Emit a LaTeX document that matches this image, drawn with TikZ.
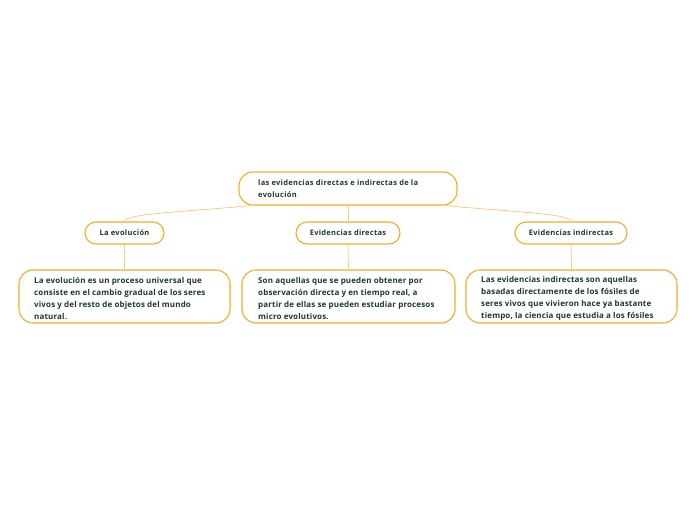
\documentclass[tikz,border=0pt]{standalone}
\usepackage{fontspec}
\setmainfont{Open Sans}
\newfontfamily\rootfont[LetterSpace=4]{Open Sans}
\newfontfamily\detfont[LetterSpace=1.8]{Open Sans}
\usetikzlibrary{calc}
\definecolor{boxline}{HTML}{F7A928}
\definecolor{connline}{HTML}{F9CB82}
\definecolor{txt}{HTML}{1D3A2C}
\tikzset{
  box/.style={draw=boxline, line width=1.1pt, rounded corners=11pt, fill=white,
    text=txt, font=\rootfont\fontsize{7.5pt}{12pt}\selectfont\bfseries, inner sep=0pt},
  rootbox/.style={box, minimum width=218pt, minimum height=33pt, rounded corners=14pt},
  midbox/.style={box, minimum height=22pt},
  detbox/.style={box, minimum height=53pt, rounded corners=14pt},
  roottext/.style={anchor=west, text=txt, font=\rootfont\fontsize{7.5pt}{12pt}\selectfont\bfseries, align=left, inner sep=0pt},
  dettext/.style={anchor=west, text=txt, font=\detfont\fontsize{8pt}{11.8pt}\selectfont\bfseries, align=left, inner sep=0pt},
  conn/.style={draw=connline, line width=0.8pt},
}
\begin{document}
\begin{tikzpicture}[x=1pt,y=-1pt]
\useasboundingbox (0,0) rectangle (696,520);
\node[rootbox] (root) at (348,188.5) {};
\node[roottext] (roottxt) at (258,189) {las evidencias directas e indirectas de la\\evolución};
\node[midbox, minimum width=79pt] (c1) at (124.5,233) {La evolución};
\node[midbox, minimum width=104pt] (c2) at (348,233) {Evidencias directas};
\node[midbox, minimum width=112pt] (c3) at (571,233) {Evidencias indirectas};
\node[detbox, minimum width=211pt] (d1) at (124.5,296.5) {};
\node[detbox, minimum width=213pt] (d2) at (348.5,296.5) {};
\node[detbox, minimum width=211pt] (d3) at (571.5,296.5) {};
\node[dettext] (t1) at (34,298.5) {La evolución es un proceso universal que\\consiste en el cambio gradual de los seres\\vivos y del resto de objetos del mundo\\natural.};
\node[dettext] (t2) at (258,298.5) {Son aquellas que se pueden obtener por\\observación directa y en tiempo real, a\\partir de ellas se pueden estudiar procesos\\micro evolutivos.};
\node[dettext] (t3) at (481,298.5) {Las evidencias indirectas son aquellas\\basadas directamente de los fósiles de\\seres vivos que vivieron hace ya bastante\\tiempo, la ciencia que estudia a los fósiles};
\draw[conn] ($(root.south west)+(12,0)$) .. controls +(-60,6) and +(0,-8) .. (c1.north);
\draw[conn] ($(root.south east)+(-12,0)$) .. controls +(60,6) and +(0,-8) .. (c3.north);
\draw[conn] (root.south) -- (c2.north);
\draw[conn] (c1.south) -- (d1.north);
\draw[conn] (c2.south) -- (d2.north);
\draw[conn] (c3.south) -- (d3.north);
\end{tikzpicture}
\end{document}
